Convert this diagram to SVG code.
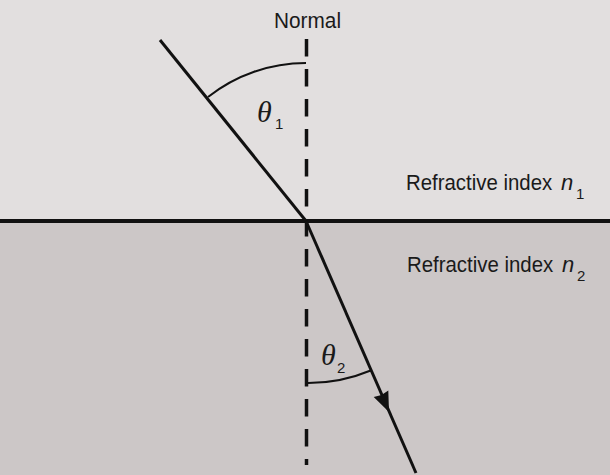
<svg xmlns="http://www.w3.org/2000/svg" width="610" height="475" viewBox="0 0 610 475">
<style>
.lbl{font-family:"Liberation Sans",Arial,sans-serif;font-size:22px;fill:#1a1a1a}
.th{font-family:"Liberation Serif","Times New Roman",serif;font-style:italic;font-size:30px;fill:#1a1a1a}
.sub{font-family:"Liberation Sans",Arial,sans-serif;font-size:15px;fill:#1a1a1a}
.ray{stroke:#111;stroke-width:3;fill:none}
.arc{stroke:#111;stroke-width:2;fill:none}
</style>
<g id="background">
<rect x="0" y="0" width="610" height="221" fill="#e2dfdf"/>
<rect x="0" y="221" width="610" height="254" fill="#ccc7c7"/>
</g>
<g id="connectors">
<line id="normal" x1="306.5" y1="39" x2="306.5" y2="465" stroke="#111" stroke-width="3.5" stroke-dasharray="17.5 12.5"/>
<line id="interface" x1="0" y1="221" x2="610" y2="221" stroke="#111" stroke-width="4"/>
<line id="incident" class="ray" x1="160" y1="40" x2="306" y2="221"/>
<line id="refracted" class="ray" x1="306" y1="221" x2="416" y2="473"/>
<path id="arrowhead" d="M389,412 L373.7,396.9 L381.5,395 L388.3,390.5 Z" fill="#111"/>
<path id="arc1" class="arc" d="M306,63 A158,158 0 0 0 208,97"/>
<path id="arc2" class="arc" d="M306,383 A162,162 0 0 0 370.7,370.5"/>
</g>
<g id="label-normal"><text class="lbl" transform="translate(274,28) scale(0.946,1)" x="0" y="0">Normal</text></g>
<g id="label-theta1"><text class="th" x="257" y="122">θ</text><text class="sub" x="275" y="129">1</text></g>
<g id="label-theta2"><text class="th" x="321" y="365">θ</text><text class="sub" x="337" y="373">2</text></g>
<g id="label-n1"><text class="lbl" transform="translate(406,190) scale(0.927,1)" x="0" y="0">Refractive index</text><text class="lbl" x="561" y="190" font-style="italic">n</text><text class="sub" x="576" y="199">1</text></g>
<g id="label-n2"><text class="lbl" transform="translate(407,272) scale(0.927,1)" x="0" y="0">Refractive index</text><text class="lbl" x="562" y="272" font-style="italic">n</text><text class="sub" x="577" y="281">2</text></g>
</svg>
